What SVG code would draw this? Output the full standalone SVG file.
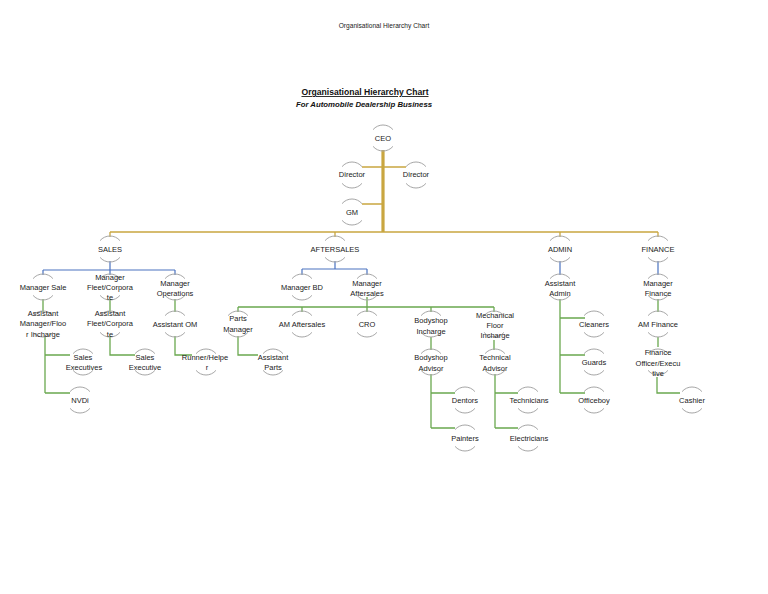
<svg xmlns="http://www.w3.org/2000/svg" xmlns:xlink="http://www.w3.org/1999/xlink" width="768" height="594" viewBox="0 0 768 594">
<style>
.t{font-family:"Liberation Sans",Arial,sans-serif;font-size:7.5px;fill:#1a1a1a;text-anchor:middle}
.ring{fill:none;stroke:#a6a6a6;stroke-width:1}
.gold{fill:none;stroke:#c9a640;stroke-width:1.3}
.goldT{fill:none;stroke:#c9a640;stroke-width:3.2}
.blue{fill:none;stroke:#4a72c0;stroke-width:1.2}
.green{fill:none;stroke:#6aa84f;stroke-width:1.3}
</style>
<defs>
<path id="ring" class="ring" d="M-9.96,-8.36 A13,13 0 0 1 9.96,-8.36 M9.96,8.36 A13,13 0 0 1 -9.96,8.36"/>
</defs>
<rect width="768" height="594" fill="#ffffff"/>
<text x="384" y="28" style="font-family:'Liberation Sans',Arial,sans-serif;font-size:6.6px;fill:#222" text-anchor="middle">Organisational Hierarchy Chart</text>
<text x="365" y="95" style="font-family:'Liberation Sans',Arial,sans-serif;font-size:8.6px;font-weight:bold;fill:#111;text-decoration:underline" text-anchor="middle">Organisational Hierarchy Chart</text>
<text x="364" y="107" style="font-family:'Liberation Sans',Arial,sans-serif;font-size:7.8px;font-weight:bold;font-style:italic;fill:#111" text-anchor="middle">For Automobile Dealership Business</text>

<g id="connectors">
<path class="goldT" d="M383,150 V232"/>
<path class="gold" d="M362,167 H406 M362,204 H383 M110,232 H658 M110,232 V237 M335,232 V237 M560,232 V237 M658,232 V237"/>
<path class="blue" d="M110,261 V270 M43,270 H175 M43,270 V275 M110,270 V275 M175,270 V275"/>
<path class="blue" d="M335,261 V269 M302,269 H367 M302,269 V275 M367,269 V275"/>
<path class="blue" d="M560,261 V275 M658,261 V275"/>
<path class="green" d="M43,299 V312 M110,299 V312 M175,299 V312"/>
<path class="green" d="M45,337 V393 M45,355 H70 M45,393 H70"/>
<path class="green" d="M110,336 V355 H135"/>
<path class="green" d="M175,336 V355 H192"/>
<path class="green" d="M238,336 V355 H258"/>
<path class="green" d="M367,297 V307 M238,307 H494 M238,307 V312 M302,307 V312 M367,307 V312 M431,307 V312 M494,307 V312"/>
<path class="green" d="M431,337 V350 M494,340 V350"/>
<path class="green" d="M431,374 V428 M431,393 H455 M431,428 H455"/>
<path class="green" d="M495,374 V428 M495,393 H518 M495,428 H518"/>
<path class="green" d="M560,299 V393 M560,318 H585 M560,355 H585 M560,393 H585"/>
<path class="green" d="M658,299 V312 M658,337 V347"/>
<path class="green" d="M657,377 V393 H680"/>
</g>

<g id="ceo"><use xlink:href="#ring" x="383" y="138"/><text class="t" x="383" y="140.5">CEO</text></g>
<g id="director-left"><use xlink:href="#ring" x="352" y="175"/><text class="t" x="352" y="177">Director</text></g>
<g id="director-right"><use xlink:href="#ring" x="416" y="175"/><text class="t" x="416" y="177">Director</text></g>
<g id="gm"><use xlink:href="#ring" x="352" y="212"/><text class="t" x="352" y="214.5">GM</text></g>

<g id="sales"><use xlink:href="#ring" x="110" y="249"/><text class="t" x="110" y="251.5">SALES</text></g>
<g id="aftersales"><use xlink:href="#ring" x="335" y="249"/><text class="t" x="335" y="251.5">AFTERSALES</text></g>
<g id="admin"><use xlink:href="#ring" x="560" y="249"/><text class="t" x="560" y="251.5">ADMIN</text></g>
<g id="finance"><use xlink:href="#ring" x="658" y="249"/><text class="t" x="658" y="251.5">FINANCE</text></g>

<g id="manager-sale"><use xlink:href="#ring" x="43" y="287"/><text class="t" x="43" y="290">Manager Sale</text></g>
<g id="manager-fleet"><use xlink:href="#ring" x="110" y="287"/><text class="t" x="110" y="279.5">Manager</text><text class="t" x="110" y="289.5">Fleet/Corpora</text><text class="t" x="110" y="299.5">te</text></g>
<g id="manager-operations"><use xlink:href="#ring" x="175" y="287"/><text class="t" x="175" y="285.5">Manager</text><text class="t" x="175" y="295.5">Operations</text></g>

<g id="assistant-manager"><use xlink:href="#ring" x="43" y="324"/><text class="t" x="43" y="315.5">Assistant</text><text class="t" x="43" y="326">Manager/Floo</text><text class="t" x="43" y="336.5">r Incharge</text></g>
<g id="assistant-fleet"><use xlink:href="#ring" x="110" y="324"/><text class="t" x="110" y="315.5">Assistant</text><text class="t" x="110" y="326">Fleet/Corpora</text><text class="t" x="110" y="336.5">te</text></g>
<g id="assistant-om"><use xlink:href="#ring" x="175" y="324"/><text class="t" x="175" y="327">Assistant OM</text></g>

<g id="sales-executives"><use xlink:href="#ring" x="83" y="362"/><text class="t" x="83" y="359.5">Sales</text><text class="t" x="84" y="369.5">Executives</text></g>
<g id="nvdi"><use xlink:href="#ring" x="80" y="400"/><text class="t" x="80" y="402.5">NVDi</text></g>
<g id="sales-executive"><use xlink:href="#ring" x="145" y="362"/><text class="t" x="145" y="359.5">Sales</text><text class="t" x="145" y="369.5">Executive</text></g>
<g id="runner-helper"><use xlink:href="#ring" x="206" y="362"/><text class="t" x="205" y="359.5">Runner/Helpe</text><text class="t" x="207" y="370">r</text></g>
<g id="assistant-parts"><use xlink:href="#ring" x="273" y="362"/><text class="t" x="273" y="359.5">Assistant</text><text class="t" x="273" y="369.5">Parts</text></g>

<g id="manager-bd"><use xlink:href="#ring" x="302" y="287"/><text class="t" x="302" y="290">Manager BD</text></g>
<g id="manager-aftersales"><use xlink:href="#ring" x="367" y="287"/><text class="t" x="367" y="285.5">Manager</text><text class="t" x="367" y="295.5">Aftersales</text></g>

<g id="parts-manager"><use xlink:href="#ring" x="238" y="324"/><text class="t" x="238" y="321">Parts</text><text class="t" x="238" y="332">Manager</text></g>
<g id="am-aftersales"><use xlink:href="#ring" x="302" y="324"/><text class="t" x="302" y="327">AM Aftersales</text></g>
<g id="cro"><use xlink:href="#ring" x="367" y="324"/><text class="t" x="367" y="327">CRO</text></g>
<g id="bodyshop-incharge"><use xlink:href="#ring" x="431" y="324"/><text class="t" x="431" y="322.5">Bodyshop</text><text class="t" x="431" y="333.5">Incharge</text></g>
<g id="mechanical-floor-incharge"><use xlink:href="#ring" x="494" y="324"/><text class="t" x="495" y="317.5">Mechanical</text><text class="t" x="495" y="327.5">Floor</text><text class="t" x="495" y="338">Incharge</text></g>

<g id="bodyshop-advisor"><use xlink:href="#ring" x="431" y="362"/><text class="t" x="431" y="360">Bodyshop</text><text class="t" x="431" y="370.5">Advisor</text></g>
<g id="technical-advisor"><use xlink:href="#ring" x="495" y="362"/><text class="t" x="495" y="360">Technical</text><text class="t" x="495" y="370.5">Advisor</text></g>
<g id="dentors"><use xlink:href="#ring" x="465" y="400"/><text class="t" x="465" y="402.5">Dentors</text></g>
<g id="painters"><use xlink:href="#ring" x="465" y="438"/><text class="t" x="465" y="440.5">Painters</text></g>
<g id="technicians"><use xlink:href="#ring" x="528" y="400"/><text class="t" x="529" y="402.5">Technicians</text></g>
<g id="electricians"><use xlink:href="#ring" x="528" y="438"/><text class="t" x="529" y="440.5">Electricians</text></g>

<g id="assistant-admin"><use xlink:href="#ring" x="560" y="287"/><text class="t" x="560" y="285.5">Assistant</text><text class="t" x="560" y="295.5">Admin</text></g>
<g id="cleaners"><use xlink:href="#ring" x="594" y="324"/><text class="t" x="594" y="327">Cleaners</text></g>
<g id="guards"><use xlink:href="#ring" x="594" y="362"/><text class="t" x="594" y="365">Guards</text></g>
<g id="officeboy"><use xlink:href="#ring" x="594" y="400"/><text class="t" x="594" y="402.5">Officeboy</text></g>

<g id="manager-finance"><use xlink:href="#ring" x="658" y="287"/><text class="t" x="658" y="285.5">Manager</text><text class="t" x="658" y="295.5">Finance</text></g>
<g id="am-finance"><use xlink:href="#ring" x="658" y="324"/><text class="t" x="658" y="327">AM Finance</text></g>
<g id="finance-officer"><use xlink:href="#ring" x="658" y="362"/><text class="t" x="658" y="355">Finance</text><text class="t" x="658" y="365.5">Officer/Execu</text><text class="t" x="658" y="375.5">tive</text></g>
<g id="cashier"><use xlink:href="#ring" x="692" y="400"/><text class="t" x="692" y="402.5">Cashier</text></g>
</svg>
